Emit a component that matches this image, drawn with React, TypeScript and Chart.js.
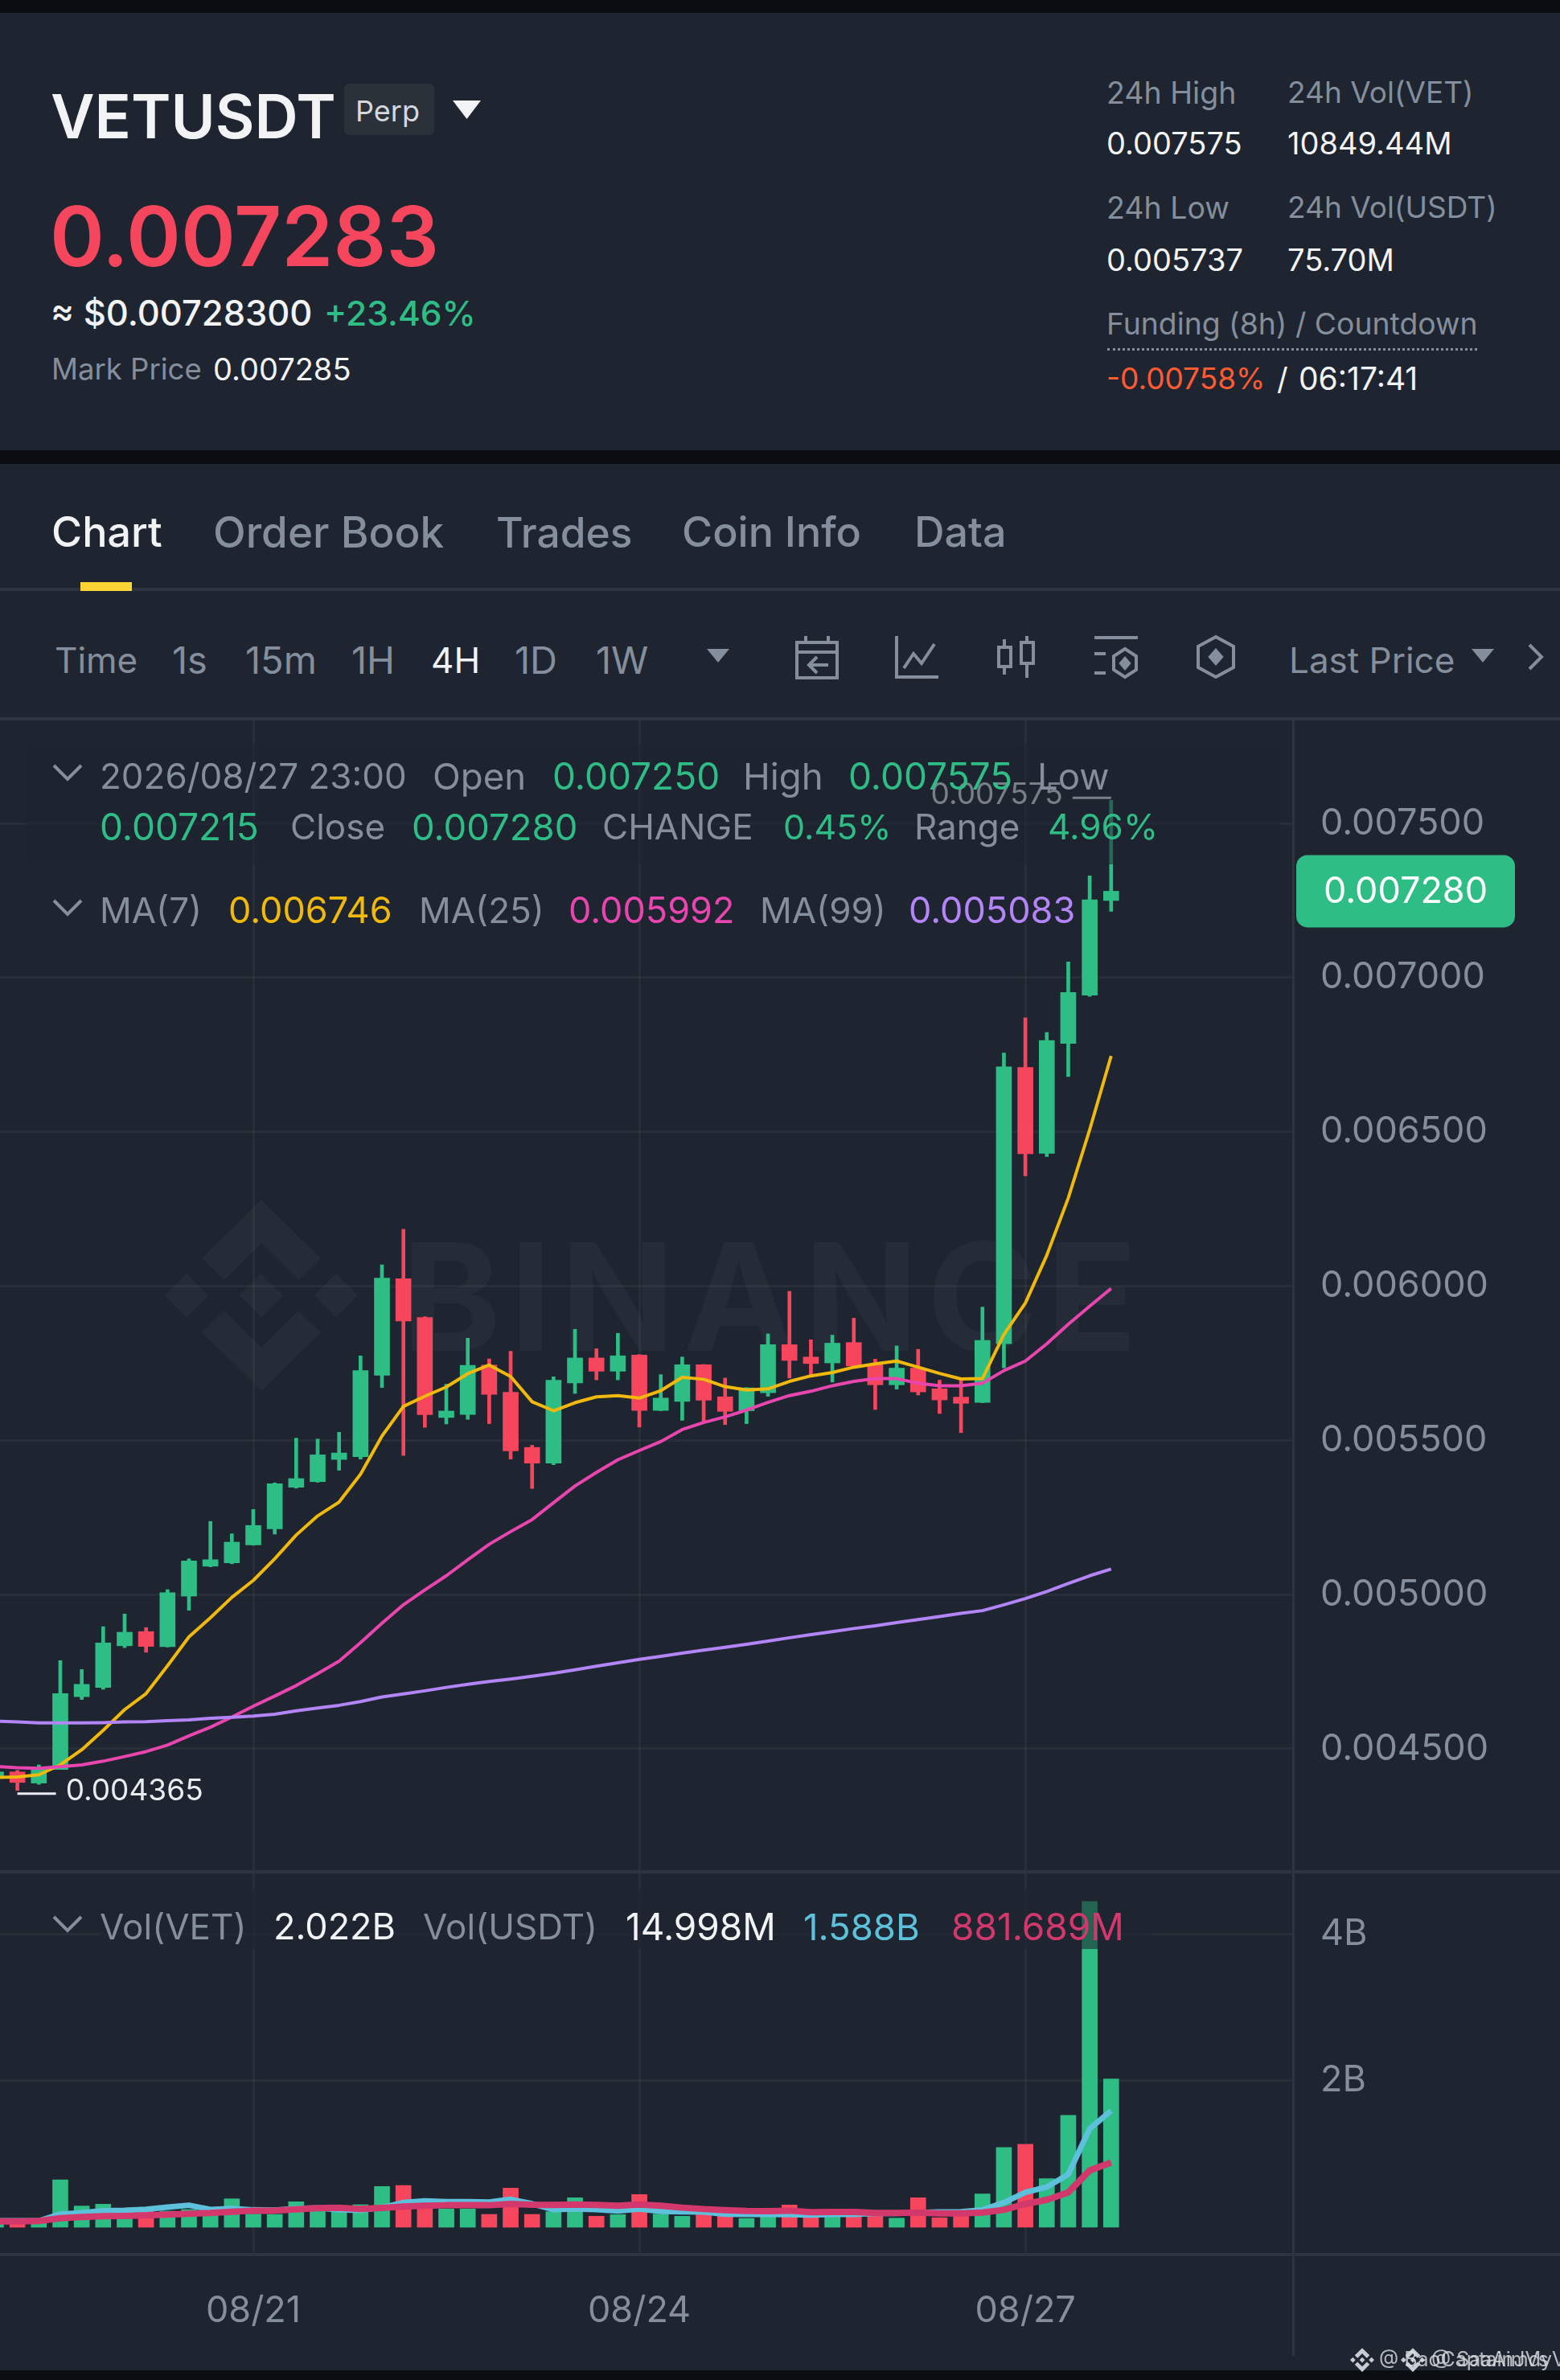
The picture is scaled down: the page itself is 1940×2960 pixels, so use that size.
import React, { useEffect, useRef } from "react";
import { Chart, registerables } from "chart.js";

Chart.register(...registerables);

const firstBar = -12;
const opens = [0.004407,0.004425,0.004389,0.004433,0.004669,0.004699,0.004834,0.00488,0.004831,0.004995,0.005092,0.005103,0.005161,0.005213,0.005348,0.005366,0.005438,0.005447,0.005711,0.006024,0.005898,0.005574,0.005584,0.005744,0.005656,0.005477,0.005426,0.005686,0.005767,0.005724,0.005776,0.005597,0.005626,0.005745,0.005641,0.005596,0.005654,0.00581,0.00577,0.005751,0.005817,0.005746,0.00568,0.005734,0.005667,0.00564,0.005623,0.005813,0.006709,0.00643,0.006787,0.006943,0.00725];
const closes = [0.004425,0.004391,0.00444,0.004679,0.004709,0.004843,0.004878,0.004832,0.005006,0.005109,0.005113,0.00517,0.005224,0.005359,0.005376,0.005453,0.005459,0.005726,0.006026,0.005887,0.005583,0.005595,0.005743,0.005649,0.005466,0.005426,0.005695,0.005767,0.005724,0.005774,0.005597,0.005637,0.005745,0.00563,0.005594,0.00567,0.00581,0.005759,0.005749,0.005815,0.005741,0.00568,0.005734,0.005657,0.005631,0.00562,0.005824,0.006711,0.006429,0.006796,0.006952,0.007252,0.00728];
const highs = [0.00443,0.00443,0.004448,0.004786,0.004757,0.004896,0.004937,0.004893,0.005016,0.005116,0.005237,0.005197,0.005276,0.005362,0.005507,0.005504,0.005526,0.005774,0.006069,0.006184,0.005901,0.005682,0.005831,0.005764,0.005789,0.005484,0.005706,0.00586,0.005797,0.005847,0.005778,0.005713,0.00577,0.005746,0.005702,0.005671,0.005845,0.005983,0.005826,0.005841,0.005896,0.005763,0.005806,0.005795,0.005695,0.005696,0.005932,0.006756,0.00687,0.006822,0.007051,0.00733,0.007575];
const lows = [0.0044,0.004365,0.004385,0.004433,0.00466,0.004693,0.004828,0.004813,0.00483,0.004949,0.00509,0.0051,0.00516,0.005196,0.005345,0.005364,0.005403,0.005439,0.005671,0.005451,0.005542,0.005553,0.005568,0.005554,0.005439,0.005344,0.005421,0.005652,0.005696,0.005696,0.005543,0.005596,0.005565,0.005561,0.005551,0.005554,0.005643,0.005702,0.005713,0.005689,0.00574,0.0056,0.005666,0.005647,0.005587,0.005525,0.005622,0.005735,0.006357,0.00642,0.006679,0.006939,0.007215];
const ma7 = [0.004407,0.004409,0.004416,0.004448,0.004497,0.00456,0.004627,0.004679,0.004769,0.004863,0.004925,0.004991,0.005046,0.005116,0.005193,0.005255,0.0053,0.00539,0.005514,0.00561,0.005643,0.005673,0.005716,0.005744,0.005707,0.005625,0.005596,0.005622,0.005641,0.005645,0.005637,0.005661,0.005704,0.005698,0.005674,0.005663,0.005667,0.005691,0.005709,0.00572,0.005737,0.005748,0.005757,0.005737,0.005717,0.005699,0.0057,0.005843,0.005945,0.0061,0.006285,0.006507,0.006746];
const ma25 = [0.004443,0.004439,0.004437,0.004442,0.004448,0.00446,0.004475,0.004491,0.004512,0.004542,0.00457,0.004603,0.004638,0.004671,0.004705,0.004744,0.004784,0.004844,0.004907,0.004967,0.005015,0.005061,0.005113,0.005163,0.005204,0.005243,0.005298,0.005352,0.005396,0.005437,0.005467,0.005496,0.005535,0.005558,0.005576,0.005598,0.005623,0.005645,0.005659,0.005677,0.005691,0.0057,0.0057,0.005685,0.005677,0.005677,0.005685,0.005726,0.005757,0.005813,0.005876,0.005935,0.005992];
const ma99 = [0.00459,0.004587,0.004584,0.004584,0.004584,0.004585,0.004587,0.004588,0.004591,0.004594,0.004599,0.004602,0.004606,0.004612,0.004623,0.004632,0.004641,0.004653,0.004668,0.004678,0.004688,0.004699,0.004709,0.004718,0.004726,0.004735,0.004745,0.004756,0.004768,0.004779,0.00479,0.0048,0.00481,0.00482,0.004829,0.004839,0.004849,0.00486,0.00487,0.00488,0.00489,0.004899,0.004909,0.004919,0.004929,0.004939,0.004948,0.004967,0.004987,0.00501,0.005036,0.005061,0.005083];
const volumes = [0.11,0.11,0.11,0.647,0.289,0.314,0.2,0.22,0.22,0.241,0.175,0.387,0.18,0.175,0.347,0.237,0.226,0.307,0.555,0.57,0.256,0.25,0.25,0.175,0.533,0.175,0.212,0.402,0.15,0.172,0.446,0.179,0.15,0.21,0.15,0.12,0.164,0.303,0.146,0.157,0.146,0.164,0.124,0.402,0.13,0.153,0.453,1.087,1.132,0.662,1.525,4.44,2.022];
const volMaFast = [0.088,0.088,0.088,0.179,0.197,0.226,0.23,0.245,0.274,0.3,0.241,0.256,0.237,0.234,0.256,0.263,0.237,0.23,0.27,0.336,0.358,0.347,0.347,0.343,0.38,0.32,0.241,0.248,0.241,0.223,0.248,0.216,0.212,0.208,0.179,0.175,0.175,0.172,0.168,0.175,0.175,0.19,0.19,0.2,0.208,0.212,0.237,0.336,0.475,0.548,0.72,1.342,1.588];
const volMaSlow = [0.08,0.08,0.084,0.124,0.139,0.15,0.153,0.161,0.172,0.183,0.194,0.212,0.226,0.226,0.245,0.259,0.267,0.248,0.263,0.281,0.292,0.3,0.3,0.3,0.318,0.307,0.303,0.31,0.303,0.292,0.31,0.292,0.267,0.248,0.234,0.223,0.219,0.226,0.205,0.208,0.208,0.194,0.194,0.2,0.19,0.19,0.2,0.237,0.318,0.373,0.475,0.774,0.8817];
const priceTicks = [0.0045, 0.005, 0.0055, 0.006, 0.0065, 0.007, 0.0075];
const volTicks = [2, 4];
const dateBars = [0, 18, 36];
const dateLabels = ["08/21", "08/24", "08/27"];
const lastClose = 0.00728;
const periodHigh = 0.007575;
const periodLow = 0.004365;

const FONT = "Inter, 'Noto Sans', sans-serif";
const BG = "#1e2530";
const BLACK = "#0a0d11";
const GREEN = "#2EBD85";
const RED = "#F6465D";
const GRAY = "#848E9C";
const WHITE = "#EAECEF";
const LINE = "#2d3440";
const GRID = "rgba(255,255,255,0.045)";

const barPx = 26.67;
const originPx = 315;
const axisPx = 1609;
const xMin = -originPx / barPx;
const xMax = (axisPx - originPx) / barPx;
const barX = (i: number) => i + firstBar;
const colors = opens.map((o, i) => (closes[i] >= o ? GREEN : RED));
const series = (vals: number[]) => vals.map((y, i) => ({ x: barX(i), y }));

function lineDs(vals: number[], color: string, width: number, yAxisID = "y", order = 0) {
  return { type: "line", data: series(vals), borderColor: color, borderWidth: width, pointRadius: 0, tension: 0, order, yAxisID, borderJoinStyle: "round" };
}

function noPad(s: any) {
  s.paddingTop = 0; s.paddingBottom = 0; s.paddingLeft = 0; s.paddingRight = 0;
}

function commonX(labels: boolean, height: number) {
  return {
    type: "linear", min: xMin, max: xMax, offset: false, bounds: "data",
    afterBuildTicks: (s: any) => { s.ticks = dateBars.map((value) => ({ value })); },
    afterFit: (s: any) => { s.height = height; noPad(s); },
    ticks: {
      display: labels, autoSkip: false, maxRotation: 0, padding: 42, color: GRAY,
      font: { family: FONT, size: 45 },
      callback: (v: number) => dateLabels[dateBars.indexOf(v)] ?? "",
    },
    grid: { color: GRID, lineWidth: 3, drawTicks: false, offset: false },
    border: { display: false },
  };
}

function commonY(min: number, max: number, ticks: number[], fmt: (v: number) => string) {
  return {
    position: "right", min, max, bounds: "data",
    afterBuildTicks: (s: any) => { s.ticks = ticks.map((value) => ({ value })); },
    afterFit: (s: any) => { s.width = 1940 - axisPx; noPad(s); },
    ticks: {
      padding: 33, color: GRAY, autoSkip: false,
      font: { family: FONT, size: 45 },
      callback: (v: number) => fmt(v),
    },
    grid: { color: GRID, lineWidth: 3, drawTicks: false },
    border: { display: false },
  };
}

const markersPlugin = {
  id: "markers",
  afterDatasetsDraw(chart: any) {
    const { ctx, scales } = chart;
    const xs = scales.x, ys = scales.y;
    ctx.save();
    ctx.textBaseline = "middle";
    ctx.font = `37px ${FONT}`;
    ctx.fillStyle = WHITE;
    ctx.strokeStyle = WHITE;
    ctx.lineWidth = 3;
    // highest
    const hiX = xs.getPixelForValue(40), hiY = ys.getPixelForValue(periodHigh) - 3;
    ctx.beginPath(); ctx.moveTo(hiX - 48, hiY); ctx.lineTo(hiX, hiY); ctx.stroke();
    ctx.textAlign = "right";
    ctx.fillText(periodHigh.toFixed(6), hiX - 60, hiY - 3);
    // lowest
    const loX = xs.getPixelForValue(-11), loY = ys.getPixelForValue(periodLow) + 4;
    ctx.beginPath(); ctx.moveTo(loX, loY); ctx.lineTo(loX + 48, loY); ctx.stroke();
    ctx.textAlign = "left";
    ctx.fillText(periodLow.toFixed(6), loX + 60, loY - 3);
    // last-price badge
    const by = ys.getPixelForValue(lastClose);
    ctx.fillStyle = GREEN;
    ctx.beginPath();
    ctx.roundRect(axisPx + 3, by - 45, 272, 90, 14);
    ctx.fill();
    ctx.fillStyle = "#fff";
    ctx.textAlign = "center";
    ctx.font = `45px ${FONT}`;
    ctx.fillText(lastClose.toFixed(6), axisPx + 3 + 136, by + 1);
    ctx.restore();
  },
};

function T({ x, cy, size = 44, color = GRAY, weight = 400, children }: any) {
  return (
    <div style={{ position: "absolute", left: x, top: cy - size, height: size * 2, lineHeight: `${size * 2}px`, fontSize: size, color, fontWeight: weight, fontFamily: FONT, whiteSpace: "nowrap" }}>
      {children}
    </div>
  );
}
function Box({ x, y, w, h, c, r = 0 }: any) {
  return <div style={{ position: "absolute", left: x, top: y, width: w, height: h, background: c, borderRadius: r }} />;
}
function Tri({ x, y, w, h, c = GRAY }: any) {
  return (
    <svg style={{ position: "absolute", left: x, top: y }} width={w} height={h}>
      <polygon points={`0,0 ${w},0 ${w / 2},${h}`} fill={c} />
    </svg>
  );
}
function Chev({ x, y }: any) {
  return (
    <svg style={{ position: "absolute", left: x, top: y }} width={38} height={22}>
      <polyline points="2,2 19,19 36,2" fill="none" stroke={GRAY} strokeWidth={4} />
    </svg>
  );
}
function Logo({ cx, cy, s, fill }: any) {
  const d = (x: number, y: number, r: number) => `M${x - r} ${y}L${x} ${y - r}L${x + r} ${y}L${x} ${y + r}Z`;
  return (
    <svg style={{ position: "absolute", left: cx - s, top: cy - s, pointerEvents: "none" }} width={s * 2} height={s * 2} viewBox="-120 -120 240 240">
      <g fill={fill}>
        <path d={d(0, 0, 27)} /><path d={d(-93, 0, 27)} /><path d={d(93, 0, 27)} />
        <path d="M0 -119L74 -46L46 -19L0 -65L-46 -19L-74 -46Z" />
        <path d="M0 119L74 46L46 19L0 65L-46 19L-74 46Z" />
      </g>
    </svg>
  );
}
function Icon({ x, w, children }: any) {
  return (
    <svg style={{ position: "absolute", left: x, top: 789 }} width={w} height={56} viewBox={`0 0 ${w} 56`} fill="none" stroke={GRAY} strokeWidth={4}>
      {children}
    </svg>
  );
}

export default function App() {
  const priceRef = useRef<HTMLCanvasElement>(null);
  const volRef = useRef<HTMLCanvasElement>(null);

  useEffect(() => {
    const price = new Chart(priceRef.current as any, {
      type: "bar",
      data: {
        datasets: [
          lineDs(ma99, "#B385F8", 4),
          lineDs(ma25, "#E846AE", 4),
          lineDs(ma7, "#F0B90B", 4),
          { type: "bar", data: opens.map((o, i) => ({ x: barX(i), y: [o, closes[i]] })), backgroundColor: colors, barThickness: 19, grouped: false, order: 1 },
          { type: "bar", data: lows.map((l, i) => ({ x: barX(i), y: [l, highs[i]] })), backgroundColor: colors, barThickness: 4, grouped: false, order: 2 },
        ],
      } as any,
      options: {
        responsive: false, animation: false, devicePixelRatio: 1,
        layout: { padding: 0, autoPadding: false },
        plugins: { legend: { display: false }, tooltip: { enabled: false }, title: { display: false } },
        scales: {
          x: commonX(false, 0),
          y: commonY(0.0041038, 0.0078389, priceTicks, (v) => v.toFixed(6)),
        },
      } as any,
      plugins: [markersPlugin],
    } as any);

    const vol = new Chart(volRef.current as any, {
      type: "bar",
      data: {
        datasets: [
          lineDs(volMaSlow, "#D2386C", 8, "y", 0),
          lineDs(volMaFast, "#5EC1DC", 7, "y", 0.5),
          { type: "bar", data: volumes.map((y, i) => ({ x: barX(i), y })), backgroundColor: colors, barThickness: 19, grouped: false, order: 1 },
        ],
      } as any,
      options: {
        responsive: false, animation: false, devicePixelRatio: 1,
        layout: { padding: 0, autoPadding: false },
        plugins: { legend: { display: false }, tooltip: { enabled: false }, title: { display: false } },
        scales: {
          x: commonX(true, 140),
          y: commonY(-0.3836, 4.855, volTicks, (v) => `${v}B`),
        },
      } as any,
    } as any);
    return () => { price.destroy(); vol.destroy(); };
  }, []);

  return (
    <div style={{ position: "absolute", left: 0, top: 0, width: 1940, height: 2960, background: BG, overflow: "hidden", fontFamily: FONT }}>
      <Box x={0} y={0} w={1940} h={16} c={BLACK} />
      <Box x={0} y={560} w={1940} h={17} c={BLACK} />
      <Box x={0} y={2948} w={1940} h={12} c={BLACK} />

      {/* header */}
      <T x={63} cy={145} size={75} color="#F2F3F5" weight={600}>VETUSDT</T>
      <Box x={428} y={104} w={112} h={64} c="#2B3139" r={6} />
      <T x={442} cy={138} size={36} color="#D5D8DC">Perp</T>
      <Tri x={563} y={125} w={35} h={23} c="#F2F3F5" />
      <T x={62} cy={294} size={103} color={RED} weight={600}>0.007283</T>
      <T x={63} cy={389} size={43.5} color="#F2F3F5" weight={500}>≈ $0.00728300</T>
      <T x={403} cy={389} size={42.5} color={GREEN} weight={500}>+23.46%</T>
      <T x={64} cy={459} size={36.5} color={GRAY}>Mark Price</T>
      <T x={265} cy={459} size={38} color="#F2F3F5">0.007285</T>

      <T x={1376} cy={115} size={37.5}>24h High</T>
      <T x={1601} cy={115} size={37}>24h Vol(VET)</T>
      <T x={1376} cy={178} size={38} color="#F2F3F5">0.007575</T>
      <T x={1601} cy={178} size={38} color="#F2F3F5">10849.44M</T>
      <T x={1376} cy={258} size={37.5}>24h Low</T>
      <T x={1601} cy={258} size={37}>24h Vol(USDT)</T>
      <T x={1376} cy={323} size={38} color="#F2F3F5">0.005737</T>
      <T x={1601} cy={323} size={38} color="#F2F3F5">75.70M</T>
      <T x={1376} cy={403} size={37.3}>Funding (8h) / Countdown</T>
      <div style={{ position: "absolute", left: 1377, top: 433, width: 460, borderTop: `3px dotted ${GRAY}` }} />
      <T x={1376} cy={471} size={37} color="#FF5B33">-0.00758%</T>
      <T x={1588} cy={471} size={38} color="#F2F3F5">/</T>
      <T x={1615} cy={471} size={39} color="#F2F3F5">06:17:41</T>

      {/* tabs */}
      <T x={64} cy={662} size={52} color="#F2F3F5" weight={500}>Chart</T>
      <T x={265} cy={662} size={53} weight={500}>Order Book</T>
      <T x={617} cy={662} size={51.5} weight={500}>Trades</T>
      <T x={848} cy={662} size={52} weight={500}>Coin Info</T>
      <T x={1137} cy={662} size={52} weight={500}>Data</T>
      <Box x={0} y={731} w={1940} h={4} c={LINE} />
      <Box x={100} y={724} w={64} h={11} c="#FCD535" />

      {/* toolbar */}
      <T x={68} cy={821} size={44}>Time</T>
      <T x={214} cy={821} size={47}>1s</T>
      <T x={305} cy={821} size={47}>15m</T>
      <T x={437} cy={821} size={47}>1H</T>
      <T x={536} cy={821} size={44} color="#F2F3F5">4H</T>
      <T x={640} cy={821} size={47}>1D</T>
      <T x={741} cy={821} size={47}>1W</T>
      <Tri x={879} y={807} w={28} h={17} />
      <Icon x={988} w={56}>
        <rect x="3" y="10" width="50" height="44" /><path d="M3 22H53M14 2V10M42 2V10M42 38H18M28 28L18 38L28 48" />
      </Icon>
      <Icon x={1112} w={56}>
        <path d="M3 2V53H55M12 42L24 24L34 36L50 12" />
      </Icon>
      <Icon x={1239} w={50}>
        <rect x="3" y="16" width="15" height="24" /><rect x="31" y="10" width="15" height="26" /><path d="M10 6V16M10 40V50M38 2V10M38 36V54" />
      </Icon>
      <Icon x={1359} w={58}>
        <path d="M2 4H56M2 24H16M2 48H16" /><path d="M40 18L54 27V44L40 53L26 44V27Z" /><path d="M40 30L45 36L40 42L35 36Z" fill={GRAY} />
      </Icon>
      <Icon x={1486} w={52}>
        <path d="M26 3L48 15V41L26 53L4 41V15Z" /><path d="M26 20L33 28L26 36L19 28Z" fill={GRAY} />
      </Icon>
      <T x={1603} cy={821} size={44}>Last Price</T>
      <Tri x={1830} y={807} w={28} h={17} />
      <svg style={{ position: "absolute", left: 1898, top: 800 }} width={24} height={34}>
        <polyline points="4,2 19,17 4,32" fill="none" stroke={GRAY} strokeWidth={4} />
      </svg>

      {/* watermark behind the chart */}
      <Logo cx={325} cy={1611} s={120} fill="rgba(255,255,255,0.035)" />
      <div style={{ position: "absolute", left: 500, top: 1520, fontSize: 186, lineHeight: "186px", fontWeight: 700, letterSpacing: 11, color: "rgba(255,255,255,0.035)", fontFamily: FONT }}>BINANCE</div>

      <canvas ref={priceRef} width={1940} height={1433} style={{ position: "absolute", left: 0, top: 894 }} />
      <canvas ref={volRef} width={1940} height={618} style={{ position: "absolute", left: 0, top: 2327 }} />

      {/* panel dividers */}
      <Box x={0} y={892} w={1940} h={4} c={LINE} />
      <Box x={0} y={2326} w={1940} h={4} c={LINE} />
      <Box x={0} y={2802} w={1940} h={4} c={LINE} />
      <Box x={1607} y={894} w={3} h={2036} c={LINE} />

      {/* legend veils */}
      <div style={{ position: "absolute", left: 31, top: 925, width: 1561, height: 150, background: "rgba(30,37,48,0.55)" }} />
      <div style={{ position: "absolute", left: 124, top: 2350, width: 1308, height: 74, background: "rgba(30,37,48,0.6)" }} />

      {/* price legend */}
      <Chev x={65} y={950} />
      <T x={124} cy={965}>2026/08/27 23:00</T>
      <T x={538} cy={965} size={45.5}>Open</T>
      <T x={687} cy={965} size={46} color={GREEN}>0.007250</T>
      <T x={924} cy={965} size={45.5}>High</T>
      <T x={1055} cy={965} size={46} color={GREEN}>0.007575</T>
      <T x={1290} cy={965} size={45.5}>Low</T>
      <T x={124} cy={1028} size={46} color={GREEN}>0.007215</T>
      <T x={361} cy={1028} size={44}>Close</T>
      <T x={512} cy={1028} size={45.5} color={GREEN}>0.007280</T>
      <T x={749} cy={1028}>CHANGE</T>
      <T x={974} cy={1028} size={43} color={GREEN}>0.45%</T>
      <T x={1137} cy={1028}>Range</T>
      <T x={1303} cy={1028} color={GREEN}>4.96%</T>
      <Chev x={65} y={1118} />
      <T x={124} cy={1132}>MA(7)</T>
      <T x={284} cy={1132} size={45} color="#F0B90B">0.006746</T>
      <T x={521} cy={1132}>MA(25)</T>
      <T x={707} cy={1132} size={45} color="#E846AE">0.005992</T>
      <T x={945} cy={1132}>MA(99)</T>
      <T x={1130} cy={1132} size={45} color="#B385F8">0.005083</T>

      {/* volume legend */}
      <Chev x={65} y={2382} />
      <T x={124} cy={2396}>Vol(VET)</T>
      <T x={340} cy={2396} size={45} color="#F2F3F5">2.022B</T>
      <T x={526} cy={2396}>Vol(USDT)</T>
      <T x={778} cy={2396} size={46} color="#F2F3F5">14.998M</T>
      <T x={999} cy={2396} size={45.5} color="#5EC1DC">1.588B</T>
      <T x={1183} cy={2396} size={46} color="#D2386C">881.689M</T>

      {/* source marks */}
      <Logo cx={1694} cy={2935} s={15} fill="#c9ccd1" />
      <Logo cx={1757} cy={2935} s={15} fill="#c9ccd1" />
      <T x={1715} cy={2934} size={25} color="rgba(220,222,226,0.8)">@ BaoCaptainJVs</T>
      <T x={1780} cy={2934} size={25} color="rgba(220,222,226,0.8)">@ SaaAimdyVis</T>
    </div>
  );
}
